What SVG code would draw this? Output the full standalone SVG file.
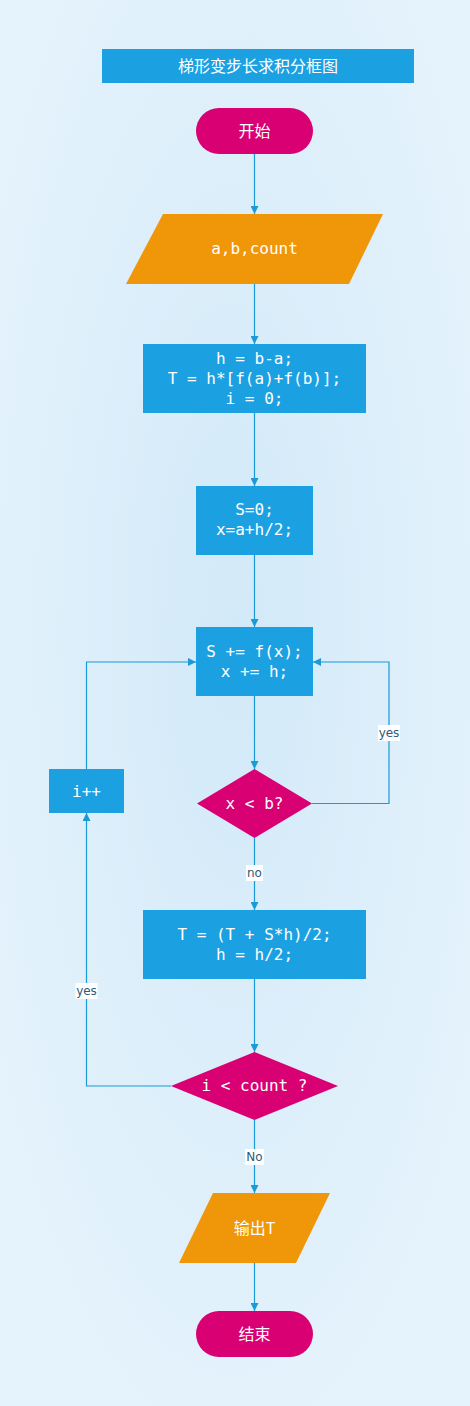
<svg xmlns="http://www.w3.org/2000/svg" width="470" height="1406" viewBox="0 0 470 1406">
<defs>
<radialGradient id="bg" cx="50%" cy="45%" r="60%">
<stop offset="0" stop-color="#d2e9f8"/>
<stop offset="1" stop-color="#e5f3fc"/>
</radialGradient>
<marker id="arr" viewBox="0 0 10 10" refX="10" refY="5" markerWidth="8" markerHeight="8" markerUnits="userSpaceOnUse" orient="auto">
<path d="M0,0 L10,5 L0,10 z" fill="#1a9ad6"/>
</marker>
<style>
.blue{fill:#1ba1e2}
.mag{fill:#d80073}
.ora{fill:#f09609}
.code{font-family:"DejaVu Sans Mono",monospace;font-size:16px;fill:#ffffff;text-anchor:middle}
.cn{font-family:"Noto Sans CJK SC","Noto Sans",sans-serif;font-size:16px;fill:#ffffff;text-anchor:middle}
.lbl{font-family:"DejaVu Sans","Noto Sans",sans-serif;font-size:12px;fill:#2e5a7a;text-anchor:middle}
.ln{fill:none;stroke:#1a9ad6;stroke-width:1.2}
</style>
</defs>
<rect x="0" y="0" width="470" height="1406" fill="url(#bg)"/>
<g id="title">
<rect class="blue" x="102" y="49" width="312" height="34"/>
<text class="cn" x="258" y="72">梯形变步长求积分框图</text>
</g>
<g id="start">
<rect class="mag" x="196" y="108" width="117" height="46" rx="23"/>
<text class="cn" x="254.5" y="137">开始</text>
</g>
<g id="input">
<polygon class="ora" points="163,214 383,214 349,284 126,284"/>
<text class="code" x="254.5" y="254">a,b,count</text>
</g>
<g id="init">
<rect class="blue" x="143" y="344" width="223" height="69"/>
<text class="code" x="254.5" y="364">h = b-a;</text>
<text class="code" x="254.5" y="384">T = h*[f(a)+f(b)];</text>
<text class="code" x="254.5" y="404">i = 0;</text>
</g>
<g id="s0">
<rect class="blue" x="196" y="486" width="117" height="69"/>
<text class="code" x="254.5" y="515">S=0;</text>
<text class="code" x="254.5" y="535">x=a+h/2;</text>
</g>
<g id="sum">
<rect class="blue" x="196" y="627" width="117" height="69"/>
<text class="code" x="254.5" y="657">S += f(x);</text>
<text class="code" x="254.5" y="677">x += h;</text>
</g>
<g id="cond1">
<polygon class="mag" points="254.5,769 312,803.5 254.5,838 197,803.5"/>
<text class="code" x="254.5" y="809">x &lt; b?</text>
</g>
<g id="inc">
<rect class="blue" x="49" y="769" width="75" height="44"/>
<text class="code" x="86.5" y="797">i++</text>
</g>
<g id="update">
<rect class="blue" x="143" y="910" width="223" height="69"/>
<text class="code" x="254.5" y="940">T = (T + S*h)/2;</text>
<text class="code" x="254.5" y="960">h = h/2;</text>
</g>
<g id="cond2">
<polygon class="mag" points="254.5,1052 338,1086 254.5,1120 171,1086"/>
<text class="code" x="254.5" y="1091">i &lt; count ?</text>
</g>
<g id="output">
<polygon class="ora" points="213,1193 330,1193 296,1263 179,1263"/>
<text class="cn" x="254.5" y="1234">输出T</text>
</g>
<g id="end">
<rect class="mag" x="196" y="1311" width="117" height="46" rx="23"/>
<text class="cn" x="254.5" y="1340">结束</text>
</g>
<g id="connectors">
<line class="ln" x1="254.5" y1="154" x2="254.5" y2="214" marker-end="url(#arr)"/>
<line class="ln" x1="254.5" y1="284" x2="254.5" y2="344" marker-end="url(#arr)"/>
<line class="ln" x1="254.5" y1="413" x2="254.5" y2="486" marker-end="url(#arr)"/>
<line class="ln" x1="254.5" y1="555" x2="254.5" y2="627" marker-end="url(#arr)"/>
<line class="ln" x1="254.5" y1="696" x2="254.5" y2="769" marker-end="url(#arr)"/>
<polyline class="ln" points="312,803.5 389,803.5 389,662 313,662" marker-end="url(#arr)"/>
<line class="ln" x1="254.5" y1="838" x2="254.5" y2="910" marker-end="url(#arr)"/>
<line class="ln" x1="254.5" y1="979" x2="254.5" y2="1052" marker-end="url(#arr)"/>
<polyline class="ln" points="171,1086 86.5,1086 86.5,813" marker-end="url(#arr)"/>
<polyline class="ln" points="86.5,769 86.5,662 196,662" marker-end="url(#arr)"/>
<line class="ln" x1="254.5" y1="1120" x2="254.5" y2="1193" marker-end="url(#arr)"/>
<line class="ln" x1="254.5" y1="1263" x2="254.5" y2="1311" marker-end="url(#arr)"/>
<rect x="378" y="725" width="22" height="16" fill="#ffffff"/>
<text class="lbl" x="389" y="737">yes</text>
<rect x="246" y="865" width="17" height="16" fill="#ffffff"/>
<text class="lbl" x="254.5" y="877">no</text>
<rect x="75.5" y="983" width="22" height="16" fill="#ffffff"/>
<text class="lbl" x="86.5" y="995">yes</text>
<rect x="245" y="1149" width="19" height="16" fill="#ffffff"/>
<text class="lbl" x="254.5" y="1161">No</text>
</g>
</svg>
